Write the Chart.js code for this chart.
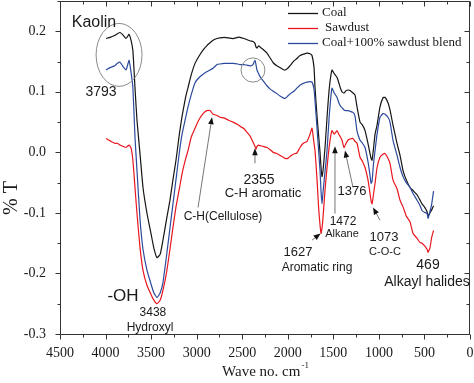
<!DOCTYPE html>
<html><head><meta charset="utf-8">
<script src="https://cdn.jsdelivr.net/npm/chart.js@4/dist/chart.umd.min.js"></script>
<style>html,body{margin:0;padding:0;background:#fff}canvas{display:block}</style>
</head><body>
<canvas id="c" width="474" height="383"></canvas>
<script>
const waves = [3995,3950,3900,3870,3841,3810,3776,3760,3742,3720,3700,3677,3655,3622,3589,3545,3500,3470,3435,3400,3370,3330,3293,3260,3227,3190,3160,3120,3095,3060,3018,2970,2930,2890,2853,2820,2777,2744,2700,2650,2601,2550,2524,2480,2447,2410,2382,2360,2349,2338,2320,2305,2270,2228,2190,2160,2120,2085,2050,2030,2000,1970,1940,1900,1866,1830,1789,1756,1734,1712,1701,1679,1660,1646,1635,1624,1613,1590,1569,1545,1515,1490,1460,1440,1420,1405,1383,1360,1339,1317,1284,1262,1240,1207,1180,1152,1120,1100,1086,1075,1060,1042,1020,988,955,933,900,878,845,801,768,735,700,658,625,581,548,527,500,471,460,440,420,400];
const coal = [0.188,0.190,0.193,0.196,0.198,0.194,0.188,0.191,0.195,0.185,0.168,0.107,0.053,-0.002,-0.058,-0.101,-0.135,-0.158,-0.174,-0.168,-0.145,-0.110,-0.079,-0.045,-0.013,0.030,0.060,0.092,0.107,0.128,0.147,0.160,0.169,0.176,0.181,0.185,0.188,0.189,0.190,0.189,0.188,0.190,0.190,0.188,0.186,0.184,0.183,0.180,0.174,0.172,0.176,0.174,0.170,0.164,0.155,0.148,0.143,0.140,0.137,0.136,0.139,0.144,0.150,0.155,0.160,0.162,0.164,0.163,0.160,0.140,0.107,0.060,0.025,0.000,-0.025,-0.040,-0.030,0.010,0.058,0.105,0.136,0.130,0.124,0.115,0.105,0.100,0.098,0.102,0.103,0.102,0.098,0.095,0.075,0.050,0.045,0.036,0.015,0.000,-0.010,-0.013,0.005,0.030,0.045,0.075,0.090,0.091,0.082,0.070,0.045,0.015,-0.005,-0.030,-0.045,-0.058,-0.063,-0.070,-0.079,-0.085,-0.090,-0.098,-0.105,-0.100,-0.095,-0.088];
const sawdust = [0.023,0.019,0.015,0.015,0.012,0.010,0.008,0.010,0.012,0.007,-0.013,-0.058,-0.101,-0.157,-0.195,-0.220,-0.235,-0.244,-0.250,-0.244,-0.228,-0.198,-0.160,-0.124,-0.090,-0.060,-0.035,-0.010,0.003,0.025,0.040,0.055,0.064,0.069,0.069,0.063,0.061,0.058,0.057,0.053,0.050,0.046,0.043,0.039,0.033,0.026,0.017,0.010,0.005,0.010,0.012,0.011,0.010,0.008,0.004,0.000,-0.002,-0.005,-0.008,-0.010,-0.010,-0.006,-0.003,-0.001,0.008,0.015,0.018,0.030,0.040,0.015,0.003,-0.045,-0.095,-0.120,-0.134,-0.125,-0.107,-0.060,-0.025,0.010,0.036,0.030,0.036,0.030,0.025,0.020,0.008,0.015,0.020,0.022,0.023,0.018,0.015,-0.008,-0.015,-0.025,-0.045,-0.065,-0.080,-0.085,-0.070,-0.051,-0.025,-0.008,-0.003,-0.002,-0.010,-0.018,-0.046,-0.060,-0.079,-0.090,-0.105,-0.115,-0.134,-0.142,-0.149,-0.150,-0.154,-0.160,-0.165,-0.158,-0.140,-0.129];
const blend = [0.136,0.140,0.143,0.147,0.149,0.142,0.136,0.143,0.152,0.132,0.107,0.025,-0.030,-0.110,-0.160,-0.195,-0.218,-0.232,-0.240,-0.232,-0.215,-0.170,-0.125,-0.085,-0.045,0.000,0.030,0.058,0.075,0.095,0.115,0.124,0.129,0.133,0.136,0.139,0.145,0.146,0.147,0.147,0.147,0.146,0.145,0.145,0.144,0.143,0.145,0.152,0.145,0.136,0.130,0.125,0.118,0.110,0.104,0.101,0.097,0.093,0.090,0.089,0.093,0.097,0.100,0.106,0.111,0.114,0.116,0.117,0.116,0.105,0.085,0.040,0.000,-0.030,-0.065,-0.085,-0.065,-0.030,0.003,0.060,0.106,0.098,0.091,0.082,0.076,0.074,0.070,0.069,0.069,0.068,0.066,0.060,0.035,0.020,0.015,0.008,-0.015,-0.035,-0.051,-0.048,-0.020,0.003,0.030,0.058,0.064,0.063,0.058,0.050,0.020,-0.005,-0.025,-0.040,-0.050,-0.058,-0.068,-0.079,-0.088,-0.096,-0.099,-0.101,-0.109,-0.098,-0.085,-0.064];
const seriesNames = ['Coal','Sawdust','Coal+100% sawdust blend'];
const seriesColors = ['#151515','#e8161e','#2b4a9c'];
const xTickValues = [4500,4000,3500,3000,2500,2000,1500,1000,500,0];
const yTickValues = [-0.3,-0.2,-0.1,0.0,0.1,0.2];
const xTitle = 'Wave no. cm';
const xTitleSup = '-1';
const yTitle = '% T';

// annotation texts anchored in data units (wave number, %T)
const labels = [
  {t:'Kaolin', w:4127, v:0.215, s:16},
  {t:'3793', w:4050, v:0.099, s:14},
  {t:'2355', w:2316, v:-0.046, s:14},
  {t:'C-H aromatic', w:2272, v:-0.068, s:13},
  {t:'C-H(Cellulose)', w:2711, v:-0.106, s:12},
  {t:'1627', w:1888, v:-0.165, s:13},
  {t:'Aromatic ring', w:1679, v:-0.19, s:12},
  {t:'1472', w:1394, v:-0.114, s:12},
  {t:'Alkane', w:1405, v:-0.134, s:11},
  {t:'1376', w:1295, v:-0.064, s:13},
  {t:'1073', w:944, v:-0.14, s:13},
  {t:'C-O-C', w:933, v:-0.164, s:11},
  {t:'469', w:461, v:-0.187, s:14},
  {t:'Alkayl halides', w:472, v:-0.215, s:14},
  {t:'-OH', w:3809, v:-0.238, s:17},
  {t:'3438', w:3480, v:-0.264, s:12},
  {t:'Hydroxyl', w:3512, v:-0.289, s:12}
];
const arrows = [
  {w1:2985, v1:-0.091, w2:2832, v2:0.058},
  {w1:2360, v1:-0.018, w2:2360, v2:0.007},
  {w1:1734, v1:-0.145, w2:1640, v2:-0.134},
  {w1:1482, v1:-0.101, w2:1482, v2:0.010},
  {w1:1284, v1:-0.058, w2:1372, v2:0.003},
  {w1:988, v1:-0.112, w2:1064, v2:-0.091}
];
const circles = [
  {w:3852, v:0.161, rw:252, rv:0.052},
  {w:2382, v:0.136, rw:131, rv:0.02}
];

const decor = {
  id:'decor',
  afterDraw(chart){
    const {ctx, chartArea:a, scales:{x,y}} = chart;
    ctx.save();
    const L=Math.round(a.left)+0.5, R=Math.round(a.right)-0.5, T=Math.round(a.top)+0.5, B=Math.round(a.bottom)+0.5;
    ctx.strokeStyle='#333'; ctx.lineWidth=1;
    ctx.beginPath();
    ctx.moveTo(L,T);ctx.lineTo(R,T);ctx.lineTo(R,B);ctx.lineTo(L,B);ctx.closePath();ctx.stroke();
    ctx.beginPath();
    for(let w=0; w<=4500; w+=250){
      const px=Math.round(x.getPixelForValue(w))+0.5;
      const len = (w%500===0)?5:3;
      ctx.moveTo(px,B);ctx.lineTo(px,B+len);
      ctx.moveTo(px,T);ctx.lineTo(px,T+len);
    }
    for(let k=-6;k<=5;k++){
      const v=k*0.05;
      const py=Math.round(y.getPixelForValue(v))+0.5;
      const len=(k%2===0)?5:3;
      ctx.moveTo(L,py);ctx.lineTo(L-len,py);
      ctx.moveTo(R,py);ctx.lineTo(R-len,py);
    }
    ctx.stroke();

    ctx.strokeStyle='#8a8a8a';
    circles.forEach(c=>{
      const cx=x.getPixelForValue(c.w), cy=y.getPixelForValue(c.v);
      const rx=Math.abs(x.getPixelForValue(c.w+c.rw)-cx), ry=Math.abs(y.getPixelForValue(c.v+c.rv)-cy);
      ctx.beginPath();ctx.ellipse(cx,cy,rx,ry,0,0,Math.PI*2);ctx.stroke();
    });

    arrows.forEach(ar=>{
      const x1=x.getPixelForValue(ar.w1), y1=y.getPixelForValue(ar.v1);
      const x2=x.getPixelForValue(ar.w2), y2=y.getPixelForValue(ar.v2);
      const ang=Math.atan2(y2-y1,x2-x1);
      ctx.strokeStyle='#666'; ctx.lineWidth=0.9;
      ctx.beginPath();ctx.moveTo(x1,y1);ctx.lineTo(x2-5*Math.cos(ang),y2-5*Math.sin(ang));ctx.stroke();
      ctx.fillStyle='#111';
      ctx.beginPath();
      ctx.moveTo(x2,y2);
      ctx.lineTo(x2-7*Math.cos(ang)+2.8*Math.sin(ang), y2-7*Math.sin(ang)-2.8*Math.cos(ang));
      ctx.lineTo(x2-7*Math.cos(ang)-2.8*Math.sin(ang), y2-7*Math.sin(ang)+2.8*Math.cos(ang));
      ctx.closePath();ctx.fill();
    });

    ctx.fillStyle='#1a1a1a'; ctx.textAlign='center'; ctx.textBaseline='middle';
    labels.forEach(l=>{
      ctx.font=l.s+'px "Liberation Sans", Arial, sans-serif';
      ctx.fillText(l.t, x.getPixelForValue(l.w), y.getPixelForValue(l.v));
    });

    ctx.font='13px "Liberation Serif", "Times New Roman", serif';
    ctx.textAlign='left';
    seriesNames.forEach((n,i)=>{
      const ly=13+i*15;
      ctx.strokeStyle=seriesColors[i]; ctx.lineWidth=1.3;
      ctx.beginPath();ctx.moveTo(288,ly+0.5);ctx.lineTo(318,ly+0.5);ctx.stroke();
      ctx.fillStyle='#1a1a1a';
      ctx.fillText(n, i===1?325:322, ly);
    });

    ctx.fillStyle='#1a1a1a';
    ctx.font='15px "Liberation Serif", "Times New Roman", serif';
    const tw=ctx.measureText(xTitle).width;
    ctx.font='9px "Liberation Serif", "Times New Roman", serif';
    const sw=ctx.measureText(xTitleSup).width;
    const cx=(a.left+a.right)/2 - (tw+sw)/2;
    ctx.textAlign='left';
    ctx.font='15px "Liberation Serif", "Times New Roman", serif';
    ctx.fillText(xTitle, cx, 372);
    ctx.font='9px "Liberation Serif", "Times New Roman", serif';
    ctx.fillText(xTitleSup, cx+tw+1, 366);

    ctx.translate(12,198); ctx.rotate(-Math.PI/2);
    ctx.textAlign='center';
    ctx.font='20px "Liberation Serif", "Times New Roman", serif';
    ctx.fillText(yTitle,0,0);
    ctx.restore();
  }
};

const noPad = s => { s.paddingTop=0; s.paddingBottom=0; s.paddingLeft=0; s.paddingRight=0; };
const mk = arr => waves.map((w,i)=>({x:w,y:arr[i]}));
new Chart(document.getElementById('c'),{
  type:'line',
  data:{datasets:[
    {label:seriesNames[1], data:mk(sawdust), borderColor:seriesColors[1]},
    {label:seriesNames[2], data:mk(blend), borderColor:seriesColors[2]},
    {label:seriesNames[0], data:mk(coal), borderColor:seriesColors[0]}
  ]},
  options:{
    responsive:false, animation:false, devicePixelRatio:1,
    layout:{padding:{top:1,right:4,left:0,bottom:0}},
    elements:{point:{radius:0}, line:{borderWidth:1.2, tension:0.15, fill:false}},
    plugins:{legend:{display:false}, tooltip:{enabled:false}},
    scales:{
      x:{type:'linear', reverse:true, min:0, max:4500,
        afterFit:s=>{s.height=49; noPad(s);},
        afterBuildTicks:s=>{s.ticks=xTickValues.map(v=>({value:v}));},
        grid:{display:false}, border:{display:false},
        ticks:{padding:3, color:'#1a1a1a', maxRotation:0, autoSkip:false,
          font:{family:'"Liberation Serif", "Times New Roman", serif', size:14},
          callback:v=>String(v)}},
      y:{type:'linear', min:-0.3, max:0.25,
        afterFit:s=>{s.width=60; noPad(s);},
        afterBuildTicks:s=>{s.ticks=yTickValues.map(v=>({value:v}));},
        grid:{display:false}, border:{display:false},
        ticks:{padding:6, color:'#1a1a1a',
          font:{family:'"Liberation Serif", "Times New Roman", serif', size:14},
          callback:v=>(Math.abs(v)<1e-9?'0.0':Number(v).toFixed(1))}}
    }
  },
  plugins:[decor]
});
</script>
</body></html>
